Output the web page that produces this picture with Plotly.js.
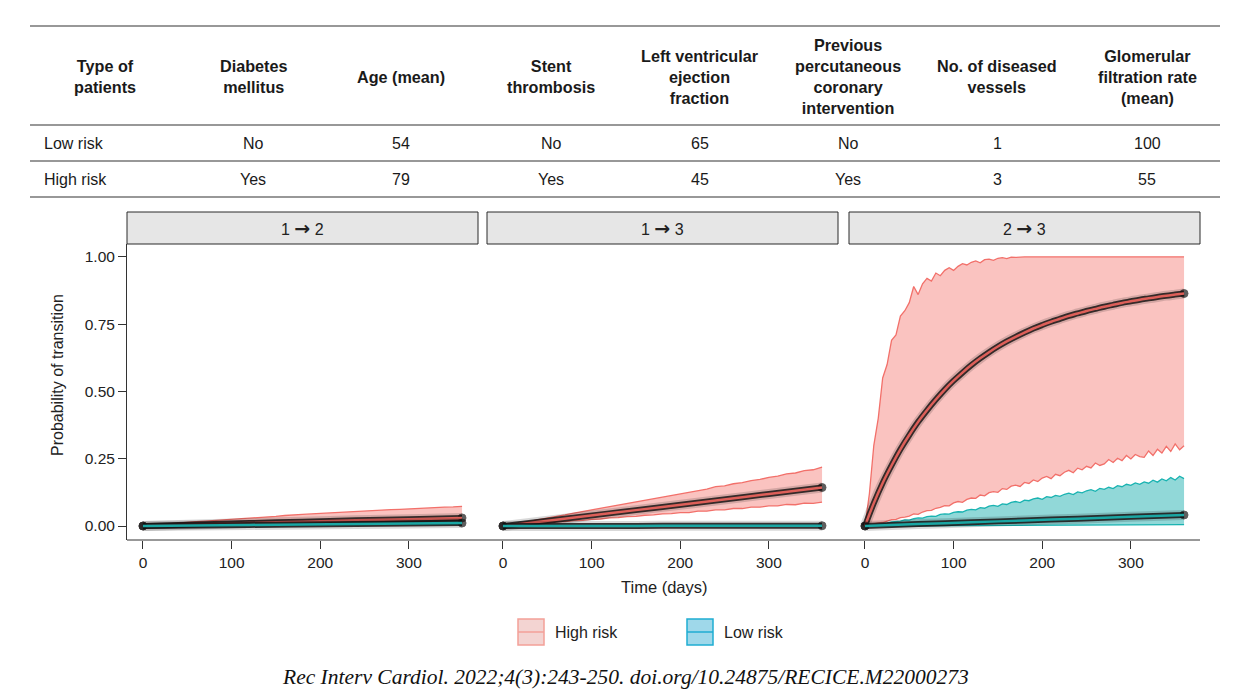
<!DOCTYPE html>
<html><head><meta charset="utf-8">
<script src="https://cdn.plot.ly/plotly-3.0.1.min.js"></script>
<style>html,body{margin:0;padding:0;background:#fff;}#chart{width:1251px;height:696px;}</style>
</head><body><div id="chart"></div>
<script>
// ---------- table content ----------
const tableHeaders = ["Type of<br>patients","Diabetes<br>mellitus","Age (mean)","Stent<br>thrombosis","Left ventricular<br>ejection<br>fraction","Previous<br>percutaneous<br>coronary<br>intervention","No. of diseased<br>vessels","Glomerular<br>filtration rate<br>(mean)"];
const patientTypes = ["Low risk","High risk"];
const lowRiskRow = ["No","54","No","65","No","1","100"];
const highRiskRow = ["Yes","79","Yes","45","Yes","3","55"];

// ---------- chart labels ----------
const panelFrom = ["1","1","2"];
const panelTo = ["2","3","3"];
const groupNames = ["High risk","Low risk"];
const yTicks = [0,0.25,0.5,0.75,1];
const yTickText = ["0.00","0.25","0.50","0.75","1.00"];
const xTicks = [0,100,200,300];
const yTitle = "Probability of transition";
const xTitle = "Time (days)";
const citation = "Rec Interv Cardiol. 2022;4(3):243-250. doi.org/10.24875/RECICE.M22000273";

// ---------- day grids ----------
const days60 = [0,60,120,180,240,300,360];
const days10 = [0,10,20,30,40,50,60,70,80,90,100,110,120,130,140,150,160,170,180,190,200,210,220,230,240,250,260,270,280,290,300,310,320,330,340,350,360];
const days5 = [0,5,10,15,20,25,30,35,40,45,50,55,60,65,70,75,80,85,90,95,100,105,110,115,120,125,130,135,140,145,150,155,160,165,170,175,180,185,190,195,200,205,210,215,220,225,230,235,240,245,250,255,260,265,270,275,280,285,290,295,300,305,310,315,320,325,330,335,340,345,350,355,360];

// ---------- 1 -> 2 ----------
const hi12Mean  = [0,0.0055,0.011,0.016,0.021,0.0255,0.030];
const hi12Lower = [0,0.002,0.004,0.006,0.008,0.010,0.012];
const hi12Upper = [0,0.003,0.005,0.008,0.011,0.013,0.016,0.018,0.020,0.023,0.025,0.028,0.029,0.032,0.034,0.036,0.039,0.040,0.043,0.045,0.047,0.049,0.050,0.053,0.054,0.056,0.058,0.059,0.061,0.062,0.064,0.066,0.067,0.068,0.070,0.071,0.073];
const lo12Mean  = [0,0.002,0.004,0.0058,0.0076,0.0093,0.011];
const lo12Upper = [0,0.003,0.006,0.0085,0.011,0.013,0.015];
const lo12Lower = [0,0.001,0.002,0.003,0.004,0.005,0.006];

// ---------- 1 -> 3 ----------
const hi13Mean  = [0,0.023,0.047,0.071,0.095,0.119,0.143];
const hi13Upper = [0,0.005,0.011,0.017,0.024,0.029,0.036,0.041,0.048,0.054,0.060,0.065,0.072,0.077,0.085,0.089,0.097,0.101,0.109,0.113,0.121,0.125,0.133,0.137,0.146,0.149,0.157,0.161,0.169,0.173,0.181,0.185,0.194,0.197,0.206,0.209,0.219];
const hi13Lower = [0,0.002,0.005,0.007,0.010,0.012,0.015,0.016,0.020,0.021,0.025,0.026,0.030,0.031,0.035,0.036,0.040,0.041,0.045,0.046,0.050,0.050,0.055,0.055,0.060,0.060,0.065,0.065,0.070,0.070,0.075,0.075,0.080,0.079,0.085,0.084,0.089];
const lo13Mean  = [0,0.0002,0.0004,0.0005,0.0007,0.0008,0.001];
const lo13Upper = [0,0.001,0.0015,0.002,0.0025,0.003,0.0035];
const lo13Lower = [0,0,0,0,0,0,0];

// ---------- 2 -> 3 ----------
const hi23Mean  = [0,0.085,0.16,0.225,0.285,0.338,0.387,0.43,0.47,0.507,0.54,0.57,0.598,0.623,0.646,0.667,0.686,0.703,0.719,0.734,0.747,0.759,0.77,0.781,0.79,0.799,0.807,0.815,0.822,0.829,0.835,0.841,0.846,0.851,0.856,0.86,0.864];
const hi23Upper = [0,0.12,0.30,0.40,0.55,0.60,0.69,0.71,0.78,0.80,0.83,0.89,0.86,0.90,0.92,0.91,0.94,0.93,0.95,0.96,0.95,0.965,0.975,0.97,0.98,0.985,0.978,0.99,0.992,0.987,0.995,0.997,0.994,0.999,0.998,1,1,1,1,1,1,1,1,1,1,1,1,1,1,1,1,1,1,1,1,1,1,1,1,1,1,1,1,1,1,1,1,1,1,1,1,1,1];
const hi23Lower = [0,0.004,0.006,0.012,0.013,0.018,0.024,0.025,0.031,0.033,0.037,0.045,0.043,0.052,0.057,0.058,0.066,0.069,0.076,0.075,0.086,0.091,0.088,0.099,0.104,0.103,0.115,0.112,0.124,0.128,0.125,0.139,0.136,0.148,0.152,0.147,0.162,0.158,0.171,0.165,0.178,0.184,0.176,0.192,0.187,0.200,0.207,0.198,0.215,0.209,0.222,0.216,0.234,0.225,0.231,0.247,0.236,0.252,0.243,0.262,0.249,0.266,0.258,0.255,0.279,0.262,0.285,0.271,0.296,0.277,0.305,0.283,0.298];
const lo23Upper = [0,0.002,0.005,0.006,0.010,0.011,0.015,0.016,0.018,0.023,0.022,0.027,0.030,0.029,0.035,0.037,0.036,0.043,0.045,0.044,0.051,0.053,0.052,0.059,0.062,0.060,0.068,0.066,0.074,0.077,0.073,0.082,0.080,0.088,0.091,0.087,0.096,0.094,0.101,0.104,0.099,0.109,0.106,0.114,0.110,0.118,0.122,0.117,0.127,0.123,0.131,0.135,0.129,0.140,0.136,0.144,0.139,0.150,0.146,0.155,0.151,0.160,0.155,0.164,0.159,0.170,0.163,0.175,0.168,0.180,0.171,0.185,0.176];
const lo23Mean  = [0,0.007,0.0138,0.0206,0.0274,0.0342,0.041];
const lo23Lower = [0,0.001,0.002,0.003,0.0035,0.0045,0.005];

// ---------- assembly ----------
const panels = [
  {hi:{mx:days60,m:hi12Mean,ux:days10,u:hi12Upper,lx:days60,l:hi12Lower}, lo:{mx:days60,m:lo12Mean,ux:days60,u:lo12Upper,lx:days60,l:lo12Lower}},
  {hi:{mx:days60,m:hi13Mean,ux:days10,u:hi13Upper,lx:days10,l:hi13Lower}, lo:{mx:days60,m:lo13Mean,ux:days60,u:lo13Upper,lx:days60,l:lo13Lower}},
  {hi:{mx:days10,m:hi23Mean,ux:days5,u:hi23Upper,lx:days5,l:hi23Lower}, lo:{mx:days60,m:lo23Mean,ux:days5,u:lo23Upper,lx:days60,l:lo23Lower}}
];
const style = {
  hi:{fill:'rgba(244,112,104,0.42)', edge:'#f2706a', center:'#dd5f59'},
  lo:{fill:'rgba(0,165,165,0.43)', edge:'#19b3b1', center:'#1aa6a3'}
};

const W=1251, H=696;
const px = v => v/W, py = v => 1 - v/H;
const xDom = [[127,478],[487,838],[849,1200]];
const yTop = 244, yBot = 540;

const traces = [];
panels.forEach((p, i) => {
  const xa = 'x' + (i ? i+1 : ''), ya = 'y' + (i ? i+1 : '');
  ['hi','lo'].forEach(g => {
    const d = p[g];
    traces.push({x: d.ux.concat(d.lx.slice().reverse()), y: d.u.concat(d.l.slice().reverse()),
      xaxis:xa, yaxis:ya, type:'scatter', mode:'lines', fill:'toself', fillcolor:style[g].fill,
      line:{width:0}, hoverinfo:'skip', showlegend:false});
  });
  ['hi','lo'].forEach(g => {
    const d = p[g];
    traces.push({x:d.ux, y:d.u, xaxis:xa, yaxis:ya, type:'scatter', mode:'lines',
      line:{color:style[g].edge, width:1.3}, showlegend:false, hoverinfo:'skip'});
    traces.push({x:d.lx, y:d.l, xaxis:xa, yaxis:ya, type:'scatter', mode:'lines',
      line:{color:style[g].edge, width:1.3}, showlegend:false, hoverinfo:'skip'});
  });
  ['hi','lo'].forEach(g => {
    const d = p[g];
    const n = d.m.length;
    const ms = d.m.map((v,k) => (k===0 || k===n-1) ? 8 : 0);
    traces.push({x:d.mx, y:d.m, xaxis:xa, yaxis:ya, type:'scatter', mode:'lines',
      line:{color:'rgba(0,0,0,0.15)', width:10, shape:'spline'}, showlegend:false, hoverinfo:'skip'});
    traces.push({x:d.mx, y:d.m, xaxis:xa, yaxis:ya, type:'scatter', mode:'lines+markers',
      line:{color:'rgba(25,20,20,0.85)', width:6, shape:'spline'}, marker:{size:ms, color:'rgba(15,15,15,0.95)'},
      showlegend:false, hoverinfo:'skip'});
    traces.push({x:d.mx, y:d.m, xaxis:xa, yaxis:ya, type:'scatter', mode:'lines',
      line:{color:style[g].center, width:2.5, shape:'spline'}, showlegend:false, hoverinfo:'skip'});
  });
});

const baseFont = 'Liberation Sans, Arial, Helvetica, sans-serif';
const layout = {
  width:W, height:H, margin:{l:0,r:0,t:0,b:0}, paper_bgcolor:'#fff', plot_bgcolor:'rgba(0,0,0,0)',
  font:{family:baseFont, color:'#222', size:15}, showlegend:false,
  shapes:[], annotations:[]
};
xDom.forEach((dom, i) => {
  const sfx = i ? i+1 : '';
  layout['xaxis'+sfx] = {domain:[px(dom[0]),px(dom[1])], range:[-18,378], anchor:'y'+sfx,
    tickvals:xTicks, ticks:'outside', ticklen:8, tickwidth:1, tickcolor:'#333',
    showgrid:false, zeroline:false, showline:false, tickfont:{size:15.5,color:'#222'}, fixedrange:true};
  layout['yaxis'+sfx] = {domain:[py(yBot),py(yTop)], range:[-0.052,1.048], anchor:'x'+sfx,
    tickvals:yTicks, ticktext:yTickText, showticklabels:i===0, ticks:i===0?'outside':'', ticklen:8, tickwidth:1, tickcolor:'#333',
    showgrid:false, zeroline:false, showline:i===0, linecolor:'#333', linewidth:1, tickfont:{size:15.5,color:'#222'}, fixedrange:true};
  layout.shapes.push({type:'rect', xref:'paper', yref:'paper', x0:px(dom[0]), x1:px(dom[1]), y0:py(yTop), y1:py(212),
    fillcolor:'#e6e6e6', line:{color:'#2a2a2a', width:1}});
  layout.annotations.push({xref:'paper', yref:'paper', x:px((dom[0]+dom[1])/2), y:py(228),
    text:panelFrom[i]+' <span style="font-family:DejaVu Sans;font-size:19px;font-weight:bold">→</span> '+panelTo[i],
    showarrow:false, xanchor:'center', yanchor:'middle', font:{size:16,color:'#222'}});
});
layout.shapes.push({type:'line', xref:'paper', yref:'paper', x0:px(127), x1:px(1200), y0:py(yBot), y1:py(yBot), line:{color:'#333', width:1}});
layout.annotations.push({xref:'paper', yref:'paper', x:px(57), y:py(375), text:yTitle, textangle:-90, showarrow:false,
  xanchor:'center', yanchor:'middle', font:{size:16,color:'#222'}});
layout.annotations.push({xref:'paper', yref:'paper', x:px(664), y:py(587), text:xTitle, showarrow:false,
  xanchor:'center', yanchor:'middle', font:{size:16.5,color:'#222'}});

// table
const colX = [105,253,401,551,700,848,997,1147];
[26,125,161,197].forEach(yv => layout.shapes.push({type:'line', xref:'paper', yref:'paper', x0:px(30), x1:px(1220), y0:py(yv), y1:py(yv), line:{color:'#333', width:1.2}}));
tableHeaders.forEach((h, i) => {
  layout.annotations.push({xref:'paper', yref:'paper', x:px(colX[i]), y:py(76.5),
    text:h.split('<br>').map(s => '<b>'+s+'</b>').join('<br>'), showarrow:false, xanchor:'center', yanchor:'middle',
    align:'center', font:{size:16.2,color:'#1a1a1a'}});
});
const rowsY = [143,179];
[lowRiskRow, highRiskRow].forEach((row, r) => {
  layout.annotations.push({xref:'paper', yref:'paper', x:px(42), y:py(rowsY[r]), text:patientTypes[r], showarrow:false,
    xanchor:'left', yanchor:'middle', font:{size:16,color:'#1a1a1a'}});
  row.forEach((v, c) => layout.annotations.push({xref:'paper', yref:'paper', x:px(colX[c+1]), y:py(rowsY[r]), text:v, showarrow:false,
    xanchor:'center', yanchor:'middle', font:{size:16,color:'#1a1a1a'}}));
});

// legend (drawn)
const legKeys = [{x:518, fill:'#f3d4d2', line:'#f3a098'}, {x:687, fill:'#9fd8ea', line:'#1fadd2'}];
legKeys.forEach((k, i) => {
  layout.shapes.push({type:'rect', xref:'paper', yref:'paper', x0:px(k.x), x1:px(k.x+26), y0:py(645), y1:py(619),
    fillcolor:k.fill, line:{color:k.line, width:1.5}});
  layout.shapes.push({type:'line', xref:'paper', yref:'paper', x0:px(k.x), x1:px(k.x+26), y0:py(632), y1:py(632),
    line:{color:k.line, width:1.5}});
  layout.annotations.push({xref:'paper', yref:'paper', x:px(k.x+35), y:py(632), text:groupNames[i], showarrow:false,
    xanchor:'left', yanchor:'middle', font:{size:16,color:'#222'}});
});

layout.annotations.push({xref:'paper', yref:'paper', x:px(625), y:py(677), text:'<i>'+citation+'</i>', showarrow:false,
  xanchor:'center', yanchor:'middle', font:{family:'Liberation Serif, Times New Roman, serif', size:21.5, color:'#111', style:'italic'}});

Plotly.newPlot('chart', traces, layout, {staticPlot:true, displayModeBar:false});
</script></body></html>
